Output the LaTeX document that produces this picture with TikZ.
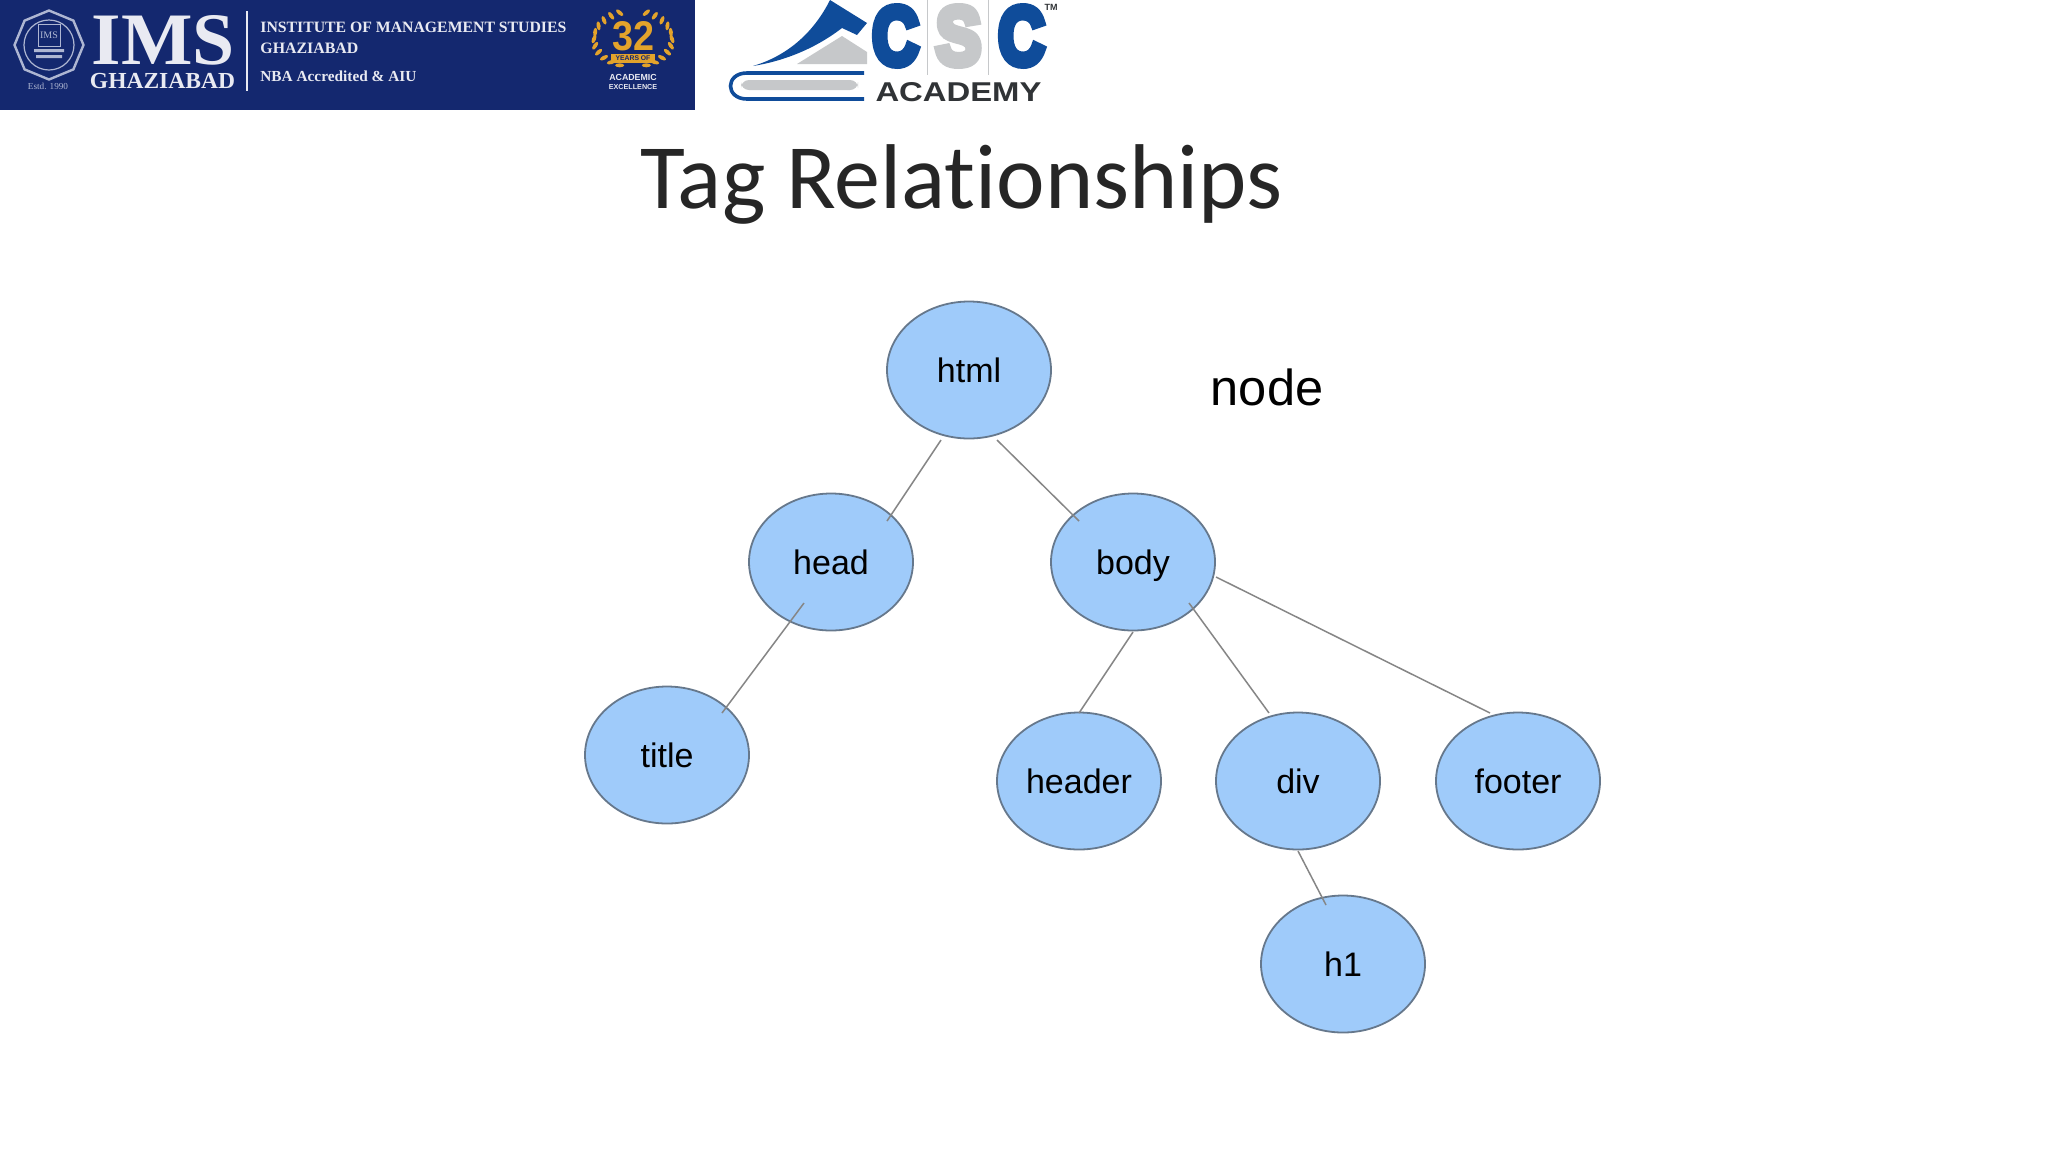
\documentclass[tikz,border=0pt]{standalone}
\usepackage{fontspec}
\usepackage{graphicx}
\usetikzlibrary{shapes.geometric,calc}
\setmainfont{Liberation Sans}
\newfontfamily\titlefont[Ligatures=NoCommon]{Carlito}
\newfontfamily\serifbf{Liberation Serif Bold}
\newfontfamily\serifrg{Liberation Serif}
\newfontfamily\sansbf{Liberation Sans Bold}
\newfontfamily\heavy[FakeBold=10]{Liberation Sans Bold}
\definecolor{navy}{HTML}{14286F}
\definecolor{paper}{HTML}{E9EAF2}
\definecolor{gold}{HTML}{E3A32B}
\definecolor{logoblue}{HTML}{0F4C9A}
\definecolor{logogray}{HTML}{C6C8CA}
\definecolor{logodark}{HTML}{303336}
\definecolor{bubble}{HTML}{9FCBFA}
\definecolor{bubbleline}{HTML}{66788C}
\definecolor{sealline}{HTML}{AEB6D2}
\tikzset{
 tagnode/.style={ellipse,draw=bubbleline,fill=bubble,line width=0.9pt,minimum width=82pt,minimum height=68.5pt,inner sep=0pt,font=\fontsize{17}{20}\selectfont,text=black,text height=12.2pt,text depth=0pt},
 edge/.style={draw=gray!95,line width=0.75pt},
 bannertext/.style={inner sep=0pt,text=paper,anchor=west},
 fit/.style={inner sep=0pt,outer sep=0pt},
}
\begin{document}
\begin{tikzpicture}[x=0.5pt,y=-0.5pt]
\useasboundingbox (0,0) rectangle (2048,1152);
\fill[white] (0,0) rectangle (2048,1152);
% banner
\fill[navy] (0,0) rectangle (695,110);
\node[regular polygon,regular polygon sides=8,draw=sealline,line width=1.2pt,minimum size=34.5pt,inner sep=0pt,shape border rotate=22.5] (sealouter) at (49,45) {};
\node[circle,draw=sealline,line width=0.6pt,minimum size=25pt,inner sep=0pt] (sealinner) at (49,45) {};
\node[draw=sealline,line width=0.5pt,fit,minimum width=11pt,minimum height=11pt,text=sealline,font=\serifrg\fontsize{5}{6}\selectfont] (sealims) at (49,35) {IMS};
\fill[sealline] (34,49) rectangle (64,52) (36,55) rectangle (62,58);
\node[fit,text=sealline,font=\serifrg\fontsize{4.6}{5}\selectfont] (estd) at (48,86) {Estd. 1990};
\node[fit,text=paper] (ims) at (163.5,40) {\resizebox{71.5pt}{24.5pt}{\serifbf IMS}};
\node[fit,text=paper] (ghaz) at (162.5,81.5) {\resizebox{72.5pt}{7.6pt}{\serifbf GHAZIABAD}};
\draw[paper,line width=0.8pt] (247,11) -- (247,91);
\node[bannertext,font=\serifbf] (inst) at (260,27) {\resizebox{153pt}{!}{INSTITUTE OF MANAGEMENT STUDIES}};
\node[bannertext,font=\serifbf] (ghaz2) at (260,48) {\resizebox{49pt}{!}{GHAZIABAD}};
\node[bannertext,font=\serifbf] (nba) at (260,76) {\resizebox{78pt}{!}{NBA Accredited \& AIU}};
% laurels
\foreach \a in {110,124,...,250}{
  \fill[gold,rotate around={\a+70:({633+39*cos(\a)},{39+28*sin(\a)})}] ({633+39*cos(\a)},{39+28*sin(\a)}) ellipse (4.5 and 2);
  \fill[gold,rotate around={-\a-70:({633-39*cos(\a)},{39+28*sin(\a)})}] ({633-39*cos(\a)},{39+28*sin(\a)}) ellipse (4.5 and 2);
}
\node[fit,text=gold] (n32) at (633,36.5) {\resizebox{21pt}{14.5pt}{\sansbf 32}};
\node[fill=gold,fit,minimum width=22pt,minimum height=4.5pt,text=navy,font=\sansbf\fontsize{3.4}{4}\selectfont] (years) at (633,58.5) {YEARS OF};
\node[fit,text=paper,font=\sansbf\fontsize{4.4}{5}\selectfont] (acad) at (633,77) {ACADEMIC};
\node[fit,text=paper,font=\sansbf\fontsize{3.6}{4}\selectfont] (exc) at (633,87) {EXCELLENCE};
% CSC logo
\fill[logoblue] (753,66) .. controls (790,55) and (815,30) .. (830,0) -- (867,23) -- (857,35) -- (842,28) .. controls (820,45) and (790,60) .. (753,66) -- cycle;
\fill[logogray] (797,64) -- (842,36) -- (867,52) -- (867,64) -- cycle;
\draw[logoblue,line width=1.8pt] (864,73) -- (747,73) .. controls (725,73) and (725,99) .. (747,99) -- (864,99);
\fill[logogray,rounded corners=4pt] (741,80) rectangle (858,90);
\draw[logogray,line width=0.4pt] (927,0) -- (927,75) (988,0) -- (988,75);
\node[fit,text=logoblue] (c1) at (895.5,36) {\resizebox{23pt}{28.5pt}{\heavy C}};
\node[fit,text=logogray] (s1) at (958.5,36) {\resizebox{22.5pt}{28.5pt}{\heavy S}};
\node[fit,text=logoblue] (c2) at (1021.5,36) {\resizebox{23pt}{28.5pt}{\heavy C}};
\node[fit,text=logodark] (acy) at (958.5,92.5) {\resizebox{83pt}{9.5pt}{\sansbf ACADEMY}};
\node[fit,text=logodark,font=\sansbf\fontsize{4.5}{5}\selectfont] (tm) at (1051,7) {TM};
% title
\node[fit,font=\titlefont\fontsize{46}{50}\selectfont,text=black!85] (title) at (961.5,184) {Tag Relationships};
\node[fit,font=\fontsize{25.3}{30}\selectfont,text=black] (lbl) at (1267,387) {node};
% tree
\node[tagnode] (html) at (969,370) {html};
\node[tagnode] (head) at (831,562) {head};
\node[tagnode] (body) at (1133,562) {body};
\node[tagnode] (titletag) at (667,755) {title};
\node[tagnode] (header) at (1079,781) {header};
\node[tagnode] (div) at (1298,781) {div};
\node[tagnode] (footer) at (1518,781) {footer};
\node[tagnode] (h1) at (1343,964) {h1};
\draw[edge] ($(html)+(-28,70)$) -- ($(head)+(56,-41)$);
\draw[edge] ($(html)+(28,70)$) -- ($(body)+(-54,-41)$);
\draw[edge] ($(head)+(-27,41)$) -- ($(titletag)+(55,-42)$);
\draw[edge] ($(body)+(0,70)$) -- ($(header)+(0,-68)$);
\draw[edge] ($(body)+(56,41)$) -- ($(div)+(-29,-68)$);
\draw[edge] ($(body)+(83,15)$) -- ($(footer)+(-28,-68)$);
\draw[edge] ($(div)+(0,70)$) -- ($(h1)+(-17,-59)$);
\end{tikzpicture}
\end{document}
